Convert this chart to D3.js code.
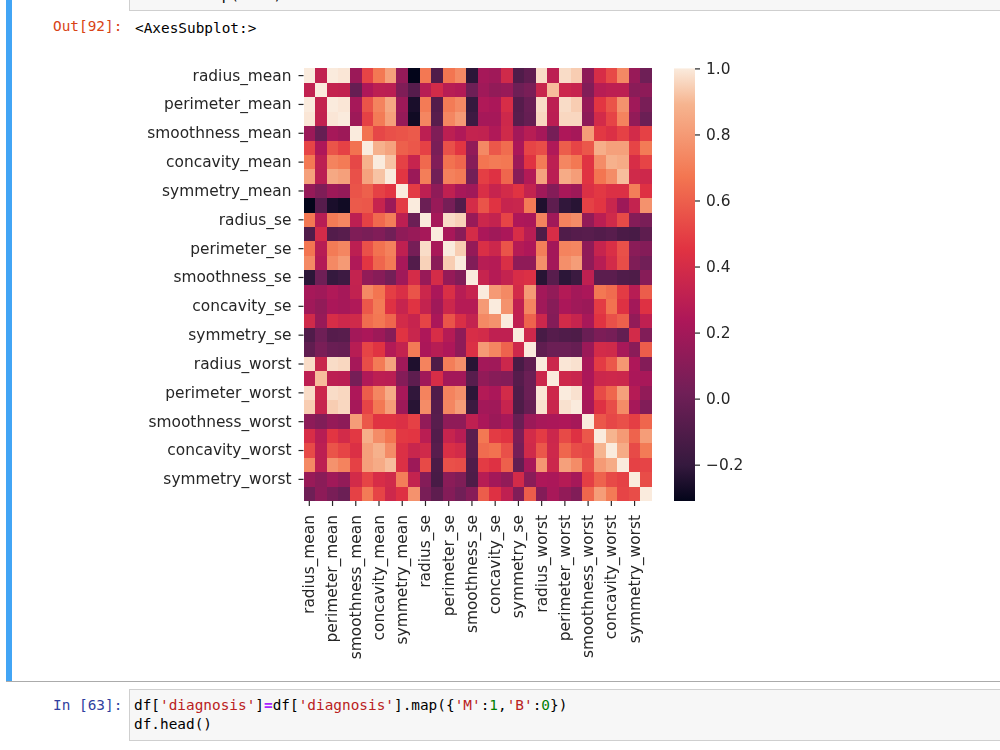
<!DOCTYPE html>
<html>
<head>
<meta charset="utf-8">
<script src="https://cdn.jsdelivr.net/npm/d3@7"></script>
<style>
    body { margin: 0; background: #fff; }
    svg { display: block; }
    .code { font-family: "DejaVu Sans Mono", monospace; font-size: 14.4px; }
    .axis text { font-family: "DejaVu Sans", sans-serif; font-size: 15.4px; fill: #262626; }
    .axis line { stroke: #262626; stroke-width: 1.2; }
    .axis path { display: none; }
</style>
</head>
<body>
<div id="chart"></div>
<script>
const features = ['radius_mean', 'texture_mean', 'perimeter_mean', 'area_mean', 'smoothness_mean',
    'compactness_mean', 'concavity_mean', 'concave points_mean', 'symmetry_mean', 'fractal_dimension_mean',
    'radius_se', 'texture_se', 'perimeter_se', 'area_se', 'smoothness_se',
    'compactness_se', 'concavity_se', 'concave points_se', 'symmetry_se', 'fractal_dimension_se',
    'radius_worst', 'texture_worst', 'perimeter_worst', 'area_worst', 'smoothness_worst',
    'compactness_worst', 'concavity_worst', 'concave points_worst', 'symmetry_worst', 'fractal_dimension_worst'];

// only every second label fits on the axes
const tickLabels = ['radius_mean', 'perimeter_mean', 'smoothness_mean', 'concavity_mean', 'symmetry_mean',
    'radius_se', 'perimeter_se', 'smoothness_se', 'concavity_se', 'symmetry_se',
    'radius_worst', 'perimeter_worst', 'smoothness_worst', 'concavity_worst', 'symmetry_worst'];

const colorbarTicks = [-0.2, 0, 0.2, 0.4, 0.6, 0.8, 1];

const corr = [
    [1, .32, 1, .99, .17, .51, .68, .82, .15, -.31, .68, -.10, .67, .74, -.22, .21, .19, .38, -.10, -.04, .97, .30, .97, .94, .12, .41, .53, .74, .16, .01],
    [.32, 1, .33, .32, -.02, .24, .30, .29, .07, -.08, .28, .39, .28, .26, .01, .19, .14, .16, .01, .05, .35, .91, .36, .34, .08, .28, .30, .30, .11, .12],
    [1, .33, 1, .99, .21, .56, .72, .85, .18, -.26, .69, -.09, .69, .74, -.20, .25, .23, .41, -.08, -.01, .97, .30, .97, .94, .15, .46, .56, .77, .19, .05],
    [.99, .32, .99, 1, .18, .50, .69, .82, .15, -.28, .73, -.07, .73, .80, -.17, .21, .21, .37, -.07, -.02, .96, .29, .96, .96, .12, .39, .51, .72, .14, 0],
    [.17, -.02, .21, .18, 1, .66, .52, .55, .56, .58, .30, .07, .30, .25, .33, .32, .25, .38, .20, .28, .21, .04, .24, .21, .81, .47, .43, .50, .39, .50],
    [.51, .24, .56, .50, .66, 1, .88, .83, .60, .57, .50, .05, .55, .46, .14, .74, .57, .64, .23, .51, .54, .25, .59, .51, .57, .87, .82, .82, .51, .69],
    [.68, .30, .72, .69, .52, .88, 1, .92, .50, .34, .63, .08, .66, .62, .10, .67, .69, .68, .18, .45, .69, .30, .73, .68, .45, .75, .88, .86, .41, .51],
    [.82, .29, .85, .82, .55, .83, .92, 1, .46, .17, .70, .02, .71, .69, .03, .49, .44, .62, .10, .26, .83, .29, .86, .81, .45, .67, .75, .91, .38, .37],
    [.15, .07, .18, .15, .56, .60, .50, .46, 1, .48, .30, .13, .31, .22, .19, .42, .34, .39, .45, .33, .19, .09, .22, .18, .43, .47, .43, .43, .70, .44],
    [-.31, -.08, -.26, -.28, .58, .57, .34, .17, .48, 1, 0, .16, .04, -.09, .40, .56, .45, .34, .35, .69, -.25, -.05, -.21, -.23, .50, .46, .35, .18, .33, .77],
    [.68, .28, .69, .73, .30, .50, .63, .70, .30, 0, 1, .21, .97, .95, .16, .36, .33, .51, .24, .23, .72, .19, .72, .75, .14, .29, .38, .53, .09, .05],
    [-.10, .39, -.09, -.07, .07, .05, .08, .02, .13, .16, .21, 1, .22, .11, .40, .23, .19, .23, .41, .28, -.11, .41, -.10, -.08, -.07, -.09, -.07, -.12, -.13, -.05],
    [.67, .28, .69, .73, .30, .55, .66, .71, .31, .04, .97, .22, 1, .94, .15, .42, .36, .56, .27, .24, .70, .20, .72, .73, .13, .34, .42, .55, .11, .09],
    [.74, .26, .74, .80, .25, .46, .62, .69, .22, -.09, .95, .11, .94, 1, .08, .28, .27, .42, .13, .13, .76, .20, .76, .81, .13, .28, .39, .54, .07, .02],
    [-.22, .01, -.20, -.17, .33, .14, .10, .03, .19, .40, .16, .40, .15, .08, 1, .34, .27, .33, .41, .43, -.23, -.07, -.22, -.18, .31, -.06, -.06, -.10, -.11, .10],
    [.21, .19, .25, .21, .32, .74, .67, .49, .42, .56, .36, .23, .42, .28, .34, 1, .80, .74, .39, .80, .20, .14, .26, .20, .23, .68, .64, .48, .28, .59],
    [.19, .14, .23, .21, .25, .57, .69, .44, .34, .45, .33, .19, .36, .27, .27, .80, 1, .77, .31, .73, .19, .10, .23, .19, .17, .48, .66, .44, .20, .44],
    [.38, .16, .41, .37, .38, .64, .68, .62, .39, .34, .51, .23, .56, .42, .33, .74, .77, 1, .31, .61, .36, .09, .39, .34, .22, .45, .55, .60, .14, .31],
    [-.10, .01, -.08, -.07, .20, .23, .18, .10, .45, .35, .24, .41, .27, .13, .41, .39, .31, .31, 1, .37, -.13, -.08, -.10, -.11, -.01, .06, .04, -.03, .39, .08],
    [-.04, .05, -.01, -.02, .28, .51, .45, .26, .33, .69, .23, .28, .24, .13, .43, .80, .73, .61, .37, 1, -.04, 0, 0, -.02, .17, .39, .38, .22, .11, .59],
    [.97, .35, .97, .96, .21, .54, .69, .83, .19, -.25, .72, -.11, .70, .76, -.23, .20, .19, .36, -.13, -.04, 1, .36, .99, .98, .22, .48, .57, .79, .24, .09],
    [.30, .91, .30, .29, .04, .25, .30, .29, .09, -.05, .19, .41, .20, .20, -.07, .14, .10, .09, -.08, 0, .36, 1, .37, .35, .23, .36, .37, .36, .23, .22],
    [.97, .36, .97, .96, .24, .59, .73, .86, .22, -.21, .72, -.10, .72, .76, -.22, .26, .23, .39, -.10, 0, .99, .37, 1, .98, .24, .53, .62, .82, .27, .14],
    [.94, .34, .94, .96, .21, .51, .68, .81, .18, -.23, .75, -.08, .73, .81, -.18, .20, .19, .34, -.11, -.02, .98, .35, .98, 1, .21, .44, .54, .75, .21, .08],
    [.12, .08, .15, .12, .81, .57, .45, .45, .43, .50, .14, -.07, .13, .13, .31, .23, .17, .22, -.01, .17, .22, .23, .24, .21, 1, .57, .52, .55, .49, .62],
    [.41, .28, .46, .39, .47, .87, .75, .67, .47, .46, .29, -.09, .34, .28, -.06, .68, .48, .45, .06, .39, .48, .36, .53, .44, .57, 1, .89, .80, .61, .81],
    [.53, .30, .56, .51, .43, .82, .88, .75, .43, .35, .38, -.07, .42, .39, -.06, .64, .66, .55, .04, .38, .57, .37, .62, .54, .52, .89, 1, .86, .53, .69],
    [.74, .30, .77, .72, .50, .82, .86, .91, .43, .18, .53, -.12, .55, .54, -.10, .48, .44, .60, -.03, .22, .79, .36, .82, .75, .55, .80, .86, 1, .50, .51],
    [.16, .11, .19, .14, .39, .51, .41, .38, .70, .33, .09, -.13, .11, .07, -.11, .28, .20, .14, .39, .11, .24, .23, .27, .21, .49, .61, .53, .50, 1, .54],
    [.01, .12, .05, 0, .50, .69, .51, .37, .44, .77, .05, -.05, .09, .02, .10, .59, .44, .31, .08, .59, .09, .22, .14, .08, .62, .81, .69, .51, .54, 1]
];

const svg = d3.select('#chart').append('svg')
    .attr('width', 1000)
    .attr('height', 750);

// Notebook chrome around the figure
function codeLine(x, y, parts) {
    const t = svg.append('text').attr('class', 'code').attr('x', x).attr('y', y).attr('xml:space', 'preserve');
    parts.forEach(p => {
        t.append('tspan').attr('fill', p[1]).attr('font-weight', p[2] || null).text(p[0]);
    });
}

svg.append('rect').attr('x', 6).attr('y', 0).attr('width', 6).attr('height', 682).attr('fill', '#42a5f5');
svg.append('rect').attr('x', 6).attr('y', 681).attr('width', 994).attr('height', 1).attr('fill', '#ababab');

svg.append('rect').attr('x', 129.5).attr('y', -5).attr('width', 880).attr('height', 15.5)
    .attr('fill', '#f7f7f7').attr('stroke', '#cfcfcf');
codeLine(135, 0, [['sns.heatmap(corr)', '#000']]);

svg.append('rect').attr('x', 129.5).attr('y', 689.5).attr('width', 880).attr('height', 51)
    .attr('fill', '#f7f7f7').attr('stroke', '#cfcfcf');

codeLine(53, 31, [['Out[92]:', '#d84315']]);
codeLine(135, 33, [['<AxesSubplot:>', '#000']]);
codeLine(53, 710, [['In [63]:', '#303f9f']]);

const red = '#ba2121';
codeLine(134, 710, [['df[', '#000'], ["'diagnosis'", red], [']', '#000'], ['=', '#aa22ff', 'bold'], ['df[', '#000'],
    ["'diagnosis'", red], ['].map({', '#000'], ["'M'", red], [':', '#000'], ['1', '#008000'], [',', '#000'],
    ["'B'", red], [':', '#000'], ['0', '#008000'], ['})', '#000']]);
codeLine(134, 729, [['df.head()', '#000']]);

// Heatmap
const mapLeft = 303.5, mapRight = 652, mapTop = 68.4, mapBottom = 501;
const vmin = -0.31, vmax = 1;

const x = d3.scaleBand().domain(features).range([mapLeft, mapRight]);
const y = d3.scaleBand().domain(features).range([mapTop, mapBottom]);

// seaborn "rocket" colormap
const rocket = ['#03051a', '#35193e', '#701f57', '#ad1759', '#e13342', '#f37651', '#f6b48f', '#faebdd'];
const rocketPos = [0, 0.083, 0.25, 0.417, 0.583, 0.75, 0.917, 1];
const color = d3.scaleLinear()
    .domain(rocketPos.map(t => vmin + t * (vmax - vmin)))
    .range(rocket)
    .interpolate(d3.interpolateRgb)
    .clamp(true);

const figure = svg.append('g').style('filter', 'blur(0.35px)');

const rows = figure.append('g').selectAll('g')
    .data(corr)
    .enter()
    .append('g');

rows.selectAll('rect')
    .data((row, i) => row.map((v, j) => ({ v: v, row: features[i], col: features[j] })))
    .enter()
    .append('rect')
    .attr('x', d => x(d.col))
    .attr('y', d => y(d.row))
    .attr('width', x.bandwidth())
    .attr('height', y.bandwidth())
    .attr('shape-rendering', 'crispEdges')
    .attr('fill', d => color(d.v));

figure.append('g')
    .attr('class', 'axis')
    .attr('transform', `translate(${mapLeft},0)`)
    .call(d3.axisLeft(y).tickValues(tickLabels).tickSize(5).tickPadding(7));

figure.append('g')
    .attr('class', 'axis')
    .attr('transform', `translate(0,${mapBottom})`)
    .call(d3.axisBottom(x).tickValues(tickLabels).tickSize(5).tickPadding(6))
    .selectAll('text')
    .attr('transform', 'rotate(-90)')
    .attr('text-anchor', 'end')
    .attr('dx', '-14')
    .attr('dy', '0.32em')
    .attr('x', 0)
    .attr('y', 0);

// Colorbar
const barLeft = 674, barRight = 695;
const barScale = d3.scaleLinear().domain([vmin, vmax]).range([mapBottom, mapTop]);

const grad = svg.append('defs').append('linearGradient')
    .attr('id', 'rocketGrad')
    .attr('x1', 0).attr('x2', 0).attr('y1', 1).attr('y2', 0);
grad.selectAll('stop')
    .data(rocket)
    .enter()
    .append('stop')
    .attr('offset', (d, i) => rocketPos[i])
    .attr('stop-color', d => d);

figure.append('rect')
    .attr('x', barLeft)
    .attr('y', mapTop)
    .attr('width', barRight - barLeft)
    .attr('height', mapBottom - mapTop)
    .attr('fill', 'url(#rocketGrad)');

figure.append('g')
    .attr('class', 'axis')
    .attr('transform', `translate(${barRight},0)`)
    .call(d3.axisRight(barScale).tickValues(colorbarTicks).tickSize(5).tickPadding(6).tickFormat(d3.format('.1f')));
</script>
</body>
</html>
